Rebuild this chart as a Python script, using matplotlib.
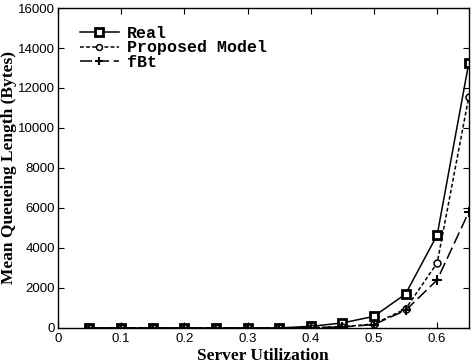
import matplotlib.pyplot as plt

# server utilization
util = [0.05, 0.10, 0.15, 0.20, 0.25, 0.30, 0.35, 0.40, 0.45, 0.50, 0.55, 0.60, 0.65]

# mean queueing length (bytes)
real = [0, 0, 0, 0, 0, 0, 0, 80, 250, 580, 1700, 4650, 13250]
proposed = [0, 0, 0, 0, 0, 0, 0, 20, 60, 200, 950, 3250, 11550]
fbt = [0, 0, 0, 0, 0, 0, 0, 15, 50, 170, 880, 2400, 5800]

xticks = [0, 0.1, 0.2, 0.3, 0.4, 0.5, 0.6]
yticks = [0, 2000, 4000, 6000, 8000, 10000, 12000, 14000, 16000]

fig = plt.figure(figsize=(4.74, 3.64), dpi=100)
ax = fig.add_axes([0.122, 0.099, 0.867, 0.879])

ax.plot(util, real, "k-", marker="s", ms=6, mfc="white", mew=2.0, lw=1.1, label="Real")
ax.plot(util, proposed, "k--", marker="o", ms=5, mfc="white", mew=1.1, lw=1.1,
        dashes=(2.5, 1.5), label="Proposed Model")
ax.plot(util, fbt, "k-", marker="+", ms=7, mew=1.5, lw=1.1,
        dashes=(8, 3), label="fBt")

ax.set_xlim(0, 0.65)
ax.set_ylim(0, 16000)
ax.set_xticks(xticks)
ax.set_yticks(yticks)
ax.set_xticklabels([f"{t:g}" for t in xticks], family="Liberation Sans", fontsize=9.5)
ax.set_yticklabels([str(t) for t in yticks], family="Liberation Sans", fontsize=9.5)
ax.tick_params(direction="in", top=True, right=True, length=4, width=0.8)
ax.tick_params(axis="x", pad=3.5)
ax.tick_params(axis="y", pad=2)
for s in ax.spines.values():
    s.set_linewidth(1.0)

ax.set_xlabel("Server Utilization", family="Liberation Serif", fontweight="bold",
              fontsize=12.5, labelpad=2)
ax.set_ylabel("Mean Queueing Length (Bytes)", family="Liberation Serif",
              fontweight="bold", fontsize=12.5, labelpad=1)

leg = ax.legend(loc="upper left", bbox_to_anchor=(0.018, 0.99), frameon=False,
                prop={"family": "Liberation Mono", "weight": "bold", "size": 12},
                handlelength=2.3, handletextpad=0.5, labelspacing=-0.05,
                markerscale=0.85)

fig.savefig("out.png", dpi=100)
